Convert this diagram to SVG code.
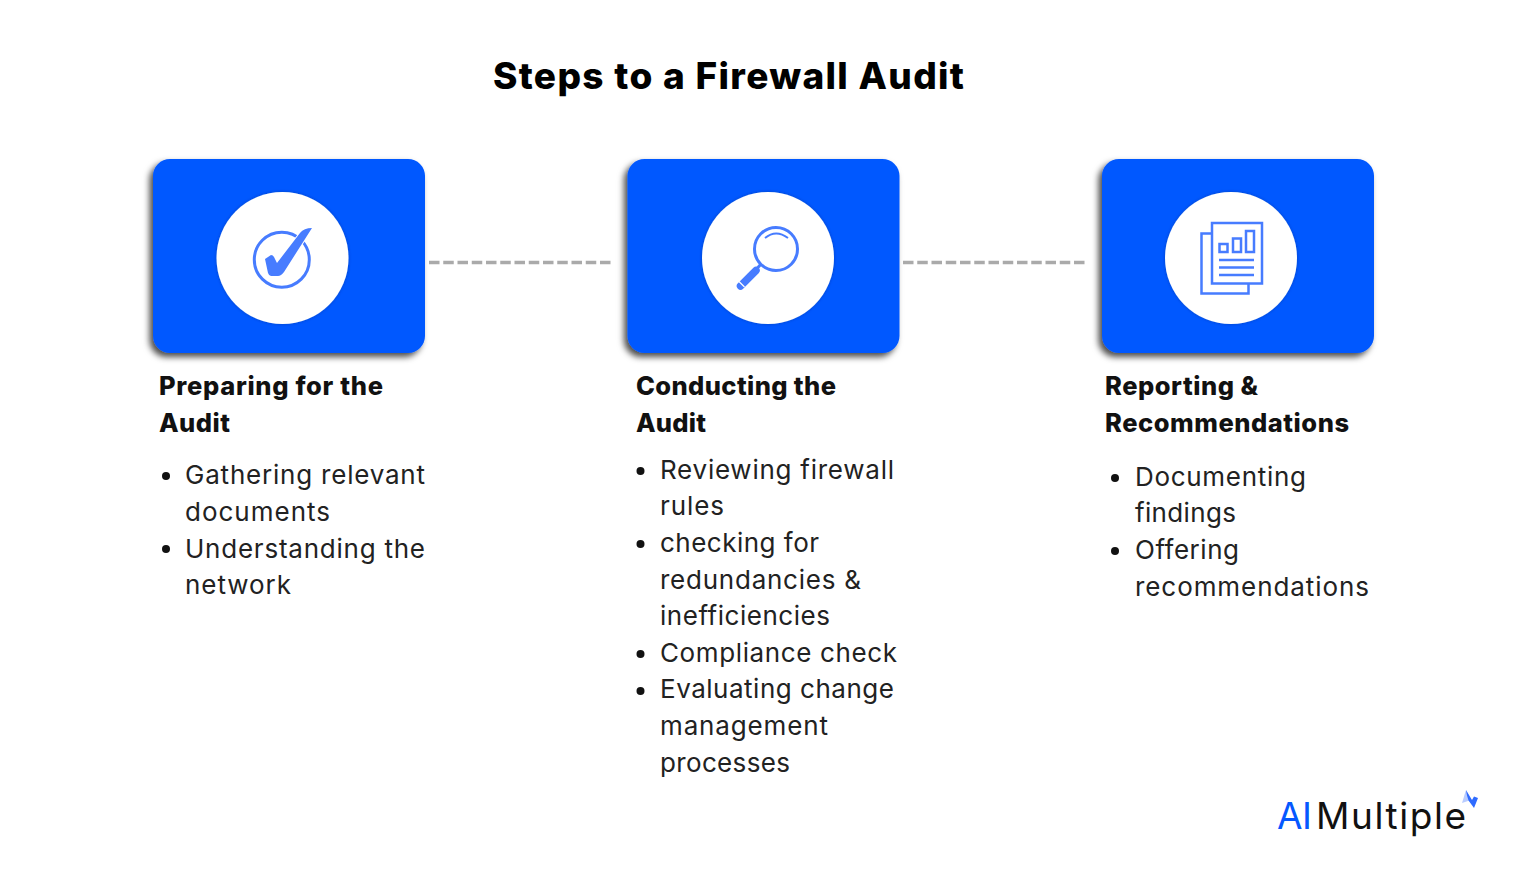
<svg xmlns="http://www.w3.org/2000/svg" width="1536" height="878" viewBox="0 0 1536 878">
<defs>
<filter id="cardShadow" x="-15%" y="-15%" width="130%" height="130%"><feDropShadow dx="-3.500" dy="4" stdDeviation="3" flood-color="#000" flood-opacity="0.7"/></filter>
<filter id="circleShadow" x="-15%" y="-15%" width="130%" height="130%"><feDropShadow dx="0" dy="0" stdDeviation="1.5" flood-color="#002a80" flood-opacity="0.5"/></filter>
</defs>
<style>
.title{font:800 37px Inter,"Liberation Sans",sans-serif;fill:#000}
.head{font:800 25.5px Inter,"Liberation Sans",sans-serif;fill:#111}
.body{font:400 26px Inter,"Liberation Sans",sans-serif;fill:#222}
.card{fill:#0558ff;filter:url(#cardShadow)}
.disc{fill:#fff;filter:url(#circleShadow)}
.ic{fill:none;stroke:#477cff;stroke-width:3}
.icf{fill:#477cff}
.bul{fill:#111}
.dash{stroke:#aaa;stroke-width:3.5;stroke-dasharray:10.500 3.750;fill:none}
</style>
<rect width="1536" height="878" fill="#fff"/>
<text class="title" x="493" y="89" textLength="471">Steps to a Firewall Audit</text>
<g id="connectors">
<path class="dash" d="M429 262.500H611"/>
<path class="dash" d="M903 262.500H1085"/>
</g>
<g id="node1">
<rect class="card" x="153" y="159" width="272" height="194" rx="17"/>
<circle class="disc" cx="282.500" cy="258" r="66"/>
<circle class="ic" cx="281.800" cy="259.700" r="27.500"/>
<path class="icf" stroke="#fff" stroke-width="2" paint-order="stroke" d="M265 259L271 255Q273 255 274 257L277 263L300 233Q304 228 312 228L284 272Q281 276 278 276L271 276Q269 276 268 273Z"/>
</g>
<g id="node2">
<rect class="card" x="627.500" y="159" width="272" height="194" rx="17"/>
<circle class="disc" cx="768" cy="258" r="66"/>
<circle class="ic" cx="776" cy="249" r="21.500"/>
<path class="ic" style="stroke-width:2" d="M765 238q11-9 23 0"/>
<path class="ic" d="M761 264l-7 8"/>
<path class="ic" stroke-linecap="round" d="M740.500 286L756 270.500" style="stroke-width:7.500"/>
<path d="M739 281.500l5.500 5.500" stroke="#fff" stroke-width="1.200"/>
</g>
<g id="node3">
<rect class="card" x="1102" y="159" width="272" height="194" rx="17"/>
<circle class="disc" cx="1231" cy="258" r="66"/>
<path class="ic" style="stroke-width:2.500" d="M1212 233.500h-10.500v60h47v-10"/>
<rect class="ic" style="stroke-width:2.500" x="1212" y="223" width="50" height="60.500"/>
<rect class="ic" style="stroke-width:2.500" x="1219.500" y="244" width="8" height="8"/>
<rect class="ic" style="stroke-width:2.500" x="1233" y="238.500" width="8" height="13.500"/>
<rect class="ic" style="stroke-width:2.500" x="1246" y="231" width="8" height="21"/>
<path class="ic" style="stroke-width:2.500" d="M1219 260h35M1219 267.500h35M1219 275h35"/>
</g>
<g id="label1">
<text class="head" x="159" y="395" textLength="224">Preparing for the</text>
<text class="head" x="159" y="432" textLength="71">Audit</text>
<circle class="bul" cx="166" cy="476" r="4"/>
<text class="body" x="185" y="484" textLength="240">Gathering relevant</text>
<text class="body" x="185" y="521" textLength="145">documents</text>
<circle class="bul" cx="166" cy="549" r="4"/>
<text class="body" x="185" y="558" textLength="240">Understanding the</text>
<text class="body" x="185" y="594" textLength="106">network</text>
</g>
<g id="label2">
<text class="head" x="636" y="395" textLength="200">Conducting the</text>
<text class="head" x="636" y="432" textLength="70">Audit</text>
<g class="bul"><circle cx="640.500" cy="471" r="4"/><circle cx="640.500" cy="544" r="4"/><circle cx="640.500" cy="654" r="4"/><circle cx="640.500" cy="691" r="4"/></g>
<text class="body" x="660" y="479" textLength="234">Reviewing firewall</text>
<text class="body" x="660" y="515" textLength="64">rules</text>
<text class="body" x="660" y="552" textLength="159">checking for</text>
<text class="body" x="660" y="589" textLength="201">redundancies &amp;</text>
<text class="body" x="660" y="625" textLength="170">inefficiencies</text>
<text class="body" x="660" y="662" textLength="237">Compliance check</text>
<text class="body" x="660" y="698" textLength="234">Evaluating change</text>
<text class="body" x="660" y="735" textLength="168">management</text>
<text class="body" x="660" y="772" textLength="130">processes</text>
</g>
<g id="label3">
<text class="head" x="1105" y="395" textLength="153">Reporting &amp;</text>
<text class="head" x="1105" y="432" textLength="244">Recommendations</text>
<g class="bul"><circle cx="1115" cy="478" r="4"/><circle cx="1115" cy="551" r="4"/></g>
<text class="body" x="1135" y="486" textLength="171">Documenting</text>
<text class="body" x="1135" y="522" textLength="101">findings</text>
<text class="body" x="1135" y="559" textLength="104">Offering</text>
<text class="body" x="1135" y="596" textLength="234">recommendations</text>
</g>
<g id="logo">
<text x="1277" y="829" textLength="35" style="font:400 37px Inter,'Liberation Sans',sans-serif;fill:#0558ff">AI</text>
<text x="1316" y="829" textLength="150" style="font:400 37px Inter,'Liberation Sans',sans-serif;fill:#111">Multiple</text>
<path d="M1462 803l4-13 5 10z" fill="#b9ccff"/>
<path d="M1466 790l6 10 2-3.500 4 1.500-4 10-5.500-7.500-1.500-5z" fill="#2f6bff"/>
</g>
</svg>
